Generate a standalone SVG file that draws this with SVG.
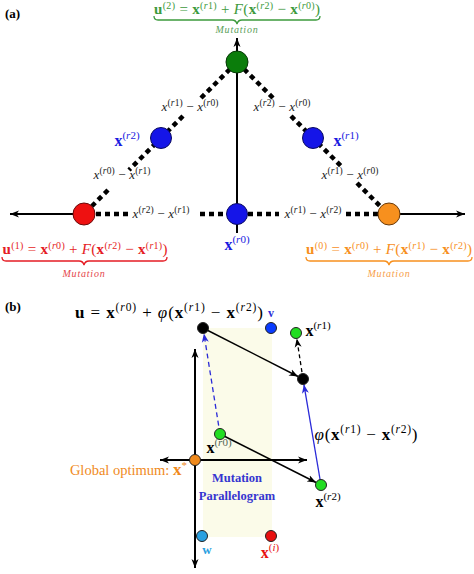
<svg xmlns="http://www.w3.org/2000/svg" width="474" height="574" viewBox="0 0 474 574">
<style>
.f{font-family:"Liberation Serif",serif}
.b{font-weight:bold}
.i{font-style:italic}
.s{font-size:9.5px}
.ax{stroke:#000;stroke-width:2;fill:none}
.dot{stroke:#000;stroke-width:4.5;stroke-dasharray:5 4;fill:none}
.lbl{font-family:"Liberation Serif",serif;font-size:13px;fill:#222}
.brace{fill:none;stroke-width:1.3}
.mut{font-family:"Liberation Serif",serif;font-style:italic;font-size:10px;letter-spacing:0.8px}
.c{stroke:#222;stroke-width:1}
</style>
<defs>
<marker id="ah" markerUnits="userSpaceOnUse" markerWidth="10" markerHeight="8" refX="9" refY="4" orient="auto-start-reverse"><path d="M0,0.5 L9,4 L0,7.5 L2.5,4 z" fill="#000"/></marker>
<marker id="ahb" markerUnits="userSpaceOnUse" markerWidth="10" markerHeight="8" refX="9" refY="4" orient="auto"><path d="M0,0.5 L9,4 L0,7.5 L2.5,4 z" fill="#2a2ad8"/></marker>
</defs>
<rect width="474" height="574" fill="#fff"/>

<!-- (a) -->
<text class="f b" x="5" y="18" font-size="13">(a)</text>
<g id="connectors-a">
<line class="ax" x1="237" y1="233" x2="237" y2="38" marker-end="url(#ah)"/>
<line class="ax" x1="84" y1="214" x2="10" y2="214" marker-end="url(#ah)"/>
<line class="ax" x1="389" y1="214" x2="465" y2="214" marker-end="url(#ah)"/>
<line class="dot" x1="230" y1="69" x2="199" y2="100"/>
<line class="dot" x1="183" y1="116" x2="165" y2="134"/>
<line class="dot" x1="156" y1="143" x2="129" y2="170"/>
<line class="dot" x1="108" y1="190" x2="91" y2="207"/>
<line class="dot" x1="244" y1="69" x2="275" y2="100"/>
<line class="dot" x1="291" y1="116" x2="309" y2="134"/>
<line class="dot" x1="318" y1="143" x2="341" y2="166"/>
<line class="dot" x1="357" y1="183" x2="381" y2="207"/>
<line class="dot" x1="96" y1="214" x2="129" y2="214"/>
<line class="dot" x1="200" y1="214" x2="226" y2="214"/>
<line class="dot" x1="248" y1="214" x2="279" y2="214"/>
<line class="dot" x1="346" y1="214" x2="378" y2="214"/>
</g>
<g id="diff-labels">
<text class="lbl" x="190" y="111" text-anchor="middle" textLength="57"><tspan class="i">x</tspan><tspan class="s" dy="-5">(<tspan class="i">r</tspan>1)</tspan><tspan dy="5"> − </tspan><tspan class="i">x</tspan><tspan class="s" dy="-5">(<tspan class="i">r</tspan>0)</tspan></text>
<text class="lbl" x="282" y="111" text-anchor="middle" textLength="57"><tspan class="i">x</tspan><tspan class="s" dy="-5">(<tspan class="i">r</tspan>2)</tspan><tspan dy="5"> − </tspan><tspan class="i">x</tspan><tspan class="s" dy="-5">(<tspan class="i">r</tspan>0)</tspan></text>
<text class="lbl" x="122" y="179" text-anchor="middle" textLength="57"><tspan class="i">x</tspan><tspan class="s" dy="-5">(<tspan class="i">r</tspan>0)</tspan><tspan dy="5"> − </tspan><tspan class="i">x</tspan><tspan class="s" dy="-5">(<tspan class="i">r</tspan>1)</tspan></text>
<text class="lbl" x="350" y="179" text-anchor="middle" textLength="57"><tspan class="i">x</tspan><tspan class="s" dy="-5">(<tspan class="i">r</tspan>1)</tspan><tspan dy="5"> − </tspan><tspan class="i">x</tspan><tspan class="s" dy="-5">(<tspan class="i">r</tspan>0)</tspan></text>
<text class="lbl" x="161" y="218" text-anchor="middle" textLength="57"><tspan class="i">x</tspan><tspan class="s" dy="-5">(<tspan class="i">r</tspan>2)</tspan><tspan dy="5"> − </tspan><tspan class="i">x</tspan><tspan class="s" dy="-5">(<tspan class="i">r</tspan>1)</tspan></text>
<text class="lbl" x="313" y="218" text-anchor="middle" textLength="57"><tspan class="i">x</tspan><tspan class="s" dy="-5">(<tspan class="i">r</tspan>1)</tspan><tspan dy="5"> − </tspan><tspan class="i">x</tspan><tspan class="s" dy="-5">(<tspan class="i">r</tspan>2)</tspan></text>
</g>
<g id="u2">
<circle cx="237" cy="62" r="11" fill="#0b7d0b" stroke="#063806" stroke-width="1"/>
<text class="f" x="237" y="14" font-size="15" fill="#3d9a3d" text-anchor="middle" textLength="166"><tspan class="b">u</tspan><tspan font-size="10" dy="-5.5">(2)</tspan><tspan dy="5.5"> = </tspan><tspan class="b">x</tspan><tspan font-size="10" dy="-5.5">(<tspan class="i">r</tspan>1)</tspan><tspan dy="5.5"> + </tspan><tspan class="i">F</tspan>(<tspan class="b">x</tspan><tspan font-size="10" dy="-5.5">(<tspan class="i">r</tspan>2)</tspan><tspan dy="5.5"> − </tspan><tspan class="b">x</tspan><tspan font-size="10" dy="-5.5">(<tspan class="i">r</tspan>0)</tspan><tspan dy="5.5">)</tspan></text>
<path class="brace" stroke="#3d9a3d" d="M154,16 q0,4 4,4 L232,20 q4,0 5,4 q1,-4 5,-4 L316,20 q4,0 4,-4"/>
<text class="mut" x="237" y="33" fill="#5aa05a" text-anchor="middle">Mutation</text>
</g>
<g id="u1">
<circle cx="84" cy="214" r="11" fill="#ee1111" stroke="#6a0a0a" stroke-width="1"/>
<text class="f" x="85" y="254" font-size="15" fill="#e51c24" text-anchor="middle" textLength="165"><tspan class="b">u</tspan><tspan font-size="10" dy="-5.5">(1)</tspan><tspan dy="5.5"> = </tspan><tspan class="b">x</tspan><tspan font-size="10" dy="-5.5">(<tspan class="i">r</tspan>0)</tspan><tspan dy="5.5"> + </tspan><tspan class="i">F</tspan>(<tspan class="b">x</tspan><tspan font-size="10" dy="-5.5">(<tspan class="i">r</tspan>2)</tspan><tspan dy="5.5"> − </tspan><tspan class="b">x</tspan><tspan font-size="10" dy="-5.5">(<tspan class="i">r</tspan>1)</tspan><tspan dy="5.5">)</tspan></text>
<path class="brace" stroke="#e51c24" d="M2,257 q0,4 4,4 L79,261 q4,0 5,4 q1,-4 5,-4 L163,261 q4,0 4,-4"/>
<text class="mut" x="84" y="277" fill="#e5464c" text-anchor="middle">Mutation</text>
</g>
<g id="u0">
<circle cx="389" cy="214" r="11" fill="#f7901e" stroke="#6a3a0a" stroke-width="1"/>
<text class="f" x="389" y="254" font-size="15" fill="#f7901e" text-anchor="middle" textLength="166"><tspan class="b">u</tspan><tspan font-size="10" dy="-5.5">(0)</tspan><tspan dy="5.5"> = </tspan><tspan class="b">x</tspan><tspan font-size="10" dy="-5.5">(<tspan class="i">r</tspan>0)</tspan><tspan dy="5.5"> + </tspan><tspan class="i">F</tspan>(<tspan class="b">x</tspan><tspan font-size="10" dy="-5.5">(<tspan class="i">r</tspan>1)</tspan><tspan dy="5.5"> − </tspan><tspan class="b">x</tspan><tspan font-size="10" dy="-5.5">(<tspan class="i">r</tspan>2)</tspan><tspan dy="5.5">)</tspan></text>
<path class="brace" stroke="#f7901e" d="M306,257 q0,4 4,4 L384,261 q4,0 5,4 q1,-4 5,-4 L468,261 q4,0 4,-4"/>
<text class="mut" x="389" y="277" fill="#f7a04a" text-anchor="middle">Mutation</text>
</g>
<g id="xr0-a">
<circle cx="237" cy="214" r="10.5" fill="#1515e8" stroke="#0a0a60" stroke-width="1"/>
<text class="f" x="237" y="250" font-size="16" fill="#1a1ae0" text-anchor="middle"><tspan class="b">x</tspan><tspan font-size="11" dy="-7">(<tspan class="i">r</tspan>0)</tspan></text>
</g>
<g id="xr2-a">
<circle cx="161" cy="138" r="10.5" fill="#1515e8" stroke="#0a0a60" stroke-width="1"/>
<text class="f" x="127" y="146" font-size="16" fill="#1a1ae0" text-anchor="middle"><tspan class="b">x</tspan><tspan font-size="11" dy="-7">(<tspan class="i">r</tspan>2)</tspan></text>
</g>
<g id="xr1-a">
<circle cx="313" cy="138" r="10.5" fill="#1515e8" stroke="#0a0a60" stroke-width="1"/>
<text class="f" x="346" y="146" font-size="16" fill="#1a1ae0" text-anchor="middle"><tspan class="b">x</tspan><tspan font-size="11" dy="-7">(<tspan class="i">r</tspan>1)</tspan></text>
</g>

<!-- (b) -->
<text class="f b" x="5" y="311" font-size="13">(b)</text>
<rect id="parallelogram" x="203" y="328" width="69" height="209" fill="#fbfbe9"/>
<g id="connectors-b">
<line class="ax" x1="195" y1="568" x2="195" y2="349" marker-start="url(#ah)" marker-end="url(#ah)"/>
<line class="ax" x1="160" y1="460" x2="307" y2="460" marker-start="url(#ah)" marker-end="url(#ah)"/>
<line x1="203" y1="328" x2="298.1" y2="376.5" stroke="#000" stroke-width="1.5" marker-end="url(#ah)"/>
<line x1="303" y1="379" x2="296.8" y2="338.4" stroke="#000" stroke-width="1.3" stroke-dasharray="4 3" marker-end="url(#ah)"/>
<line x1="321" y1="485" x2="303.9" y2="384.4" stroke="#2a2ad8" stroke-width="1.3" marker-end="url(#ahb)"/>
<line x1="220" y1="434" x2="203.9" y2="333.4" stroke="#2a2ad8" stroke-width="1.3" stroke-dasharray="5 3.5" marker-end="url(#ahb)"/>
<line x1="220" y1="434" x2="316.1" y2="482.5" stroke="#000" stroke-width="1.5" marker-end="url(#ah)"/>
</g>
<g id="u-b">
<circle cx="203" cy="328" r="5.5" fill="#000" class="c"/>
<text class="f" x="169" y="318" font-size="17" fill="#000" text-anchor="middle" textLength="188"><tspan class="b">u</tspan><tspan> = </tspan><tspan class="b">x</tspan><tspan font-size="11.5" dy="-7">(<tspan class="i">r</tspan>0)</tspan><tspan dy="7"> + </tspan><tspan class="i">φ</tspan>(<tspan class="b">x</tspan><tspan font-size="11.5" dy="-7">(<tspan class="i">r</tspan>1)</tspan><tspan dy="7"> − </tspan><tspan class="b">x</tspan><tspan font-size="11.5" dy="-7">(<tspan class="i">r</tspan>2)</tspan><tspan dy="7">)</tspan></text>
</g>
<g id="v">
<circle cx="271" cy="328" r="5.5" fill="#0a3cff" class="c"/>
<text class="f b" x="271" y="317" font-size="12" fill="#2a2ad8" text-anchor="middle">v</text>
</g>
<g id="xr1-b">
<circle cx="296" cy="333" r="5.5" fill="#22dd22" class="c"/>
<text class="f" x="318" y="336" font-size="16" fill="#000" text-anchor="middle"><tspan class="b">x</tspan><tspan font-size="11" dy="-7">(<tspan class="i">r</tspan>1)</tspan></text>
</g>
<g id="mid">
<circle cx="303" cy="379" r="5.5" fill="#000" class="c"/>
</g>
<g id="xr0-b">
<circle cx="220" cy="434" r="5.5" fill="#22dd22" class="c"/>
<text class="f" x="219" y="453" font-size="16" fill="#000" text-anchor="middle"><tspan class="b">x</tspan><tspan font-size="11" dy="-7" fill="#556655">(<tspan class="i">r</tspan>0)</tspan></text>
</g>
<g id="xr2-b">
<circle cx="321" cy="485" r="5.5" fill="#22dd22" class="c"/>
<text class="f" x="328" y="507" font-size="16" fill="#000" text-anchor="middle"><tspan class="b">x</tspan><tspan font-size="11" dy="-7">(<tspan class="i">r</tspan>2)</tspan></text>
</g>
<text class="f" x="366" y="440" font-size="17" fill="#000" text-anchor="middle" textLength="103"><tspan class="i">φ</tspan>(<tspan class="b">x</tspan><tspan font-size="11.5" dy="-7">(<tspan class="i">r</tspan>1)</tspan><tspan dy="7"> − </tspan><tspan class="b">x</tspan><tspan font-size="11.5" dy="-7">(<tspan class="i">r</tspan>2)</tspan><tspan dy="7">)</tspan></text>
<g id="xstar">
<circle cx="195" cy="460" r="5.5" fill="#f08a1c" class="c"/>
<text class="f" x="187" y="475" font-size="14.5" fill="#f08a1c" text-anchor="end">Global optimum: <tspan class="b" font-size="17">x</tspan><tspan font-size="11" dy="-6">*</tspan></text>
</g>
<text class="f b" x="237" y="482" font-size="12.5" fill="#3535d0" text-anchor="middle">Mutation</text>
<text class="f b" x="237" y="500" font-size="12.5" fill="#3535d0" text-anchor="middle">Parallelogram</text>
<g id="w">
<circle cx="202" cy="536" r="5.5" fill="#2aa0e0" class="c"/>
<text class="f b" x="207" y="554" font-size="13" fill="#2aa0e0" text-anchor="middle">w</text>
</g>
<g id="xi">
<circle cx="271" cy="536" r="5.5" fill="#e81010" class="c"/>
<text class="f" x="270" y="558" font-size="16" fill="#e81010" text-anchor="middle"><tspan class="b">x</tspan><tspan font-size="11" dy="-7">(<tspan class="i">i</tspan>)</tspan></text>
</g>
</svg>
